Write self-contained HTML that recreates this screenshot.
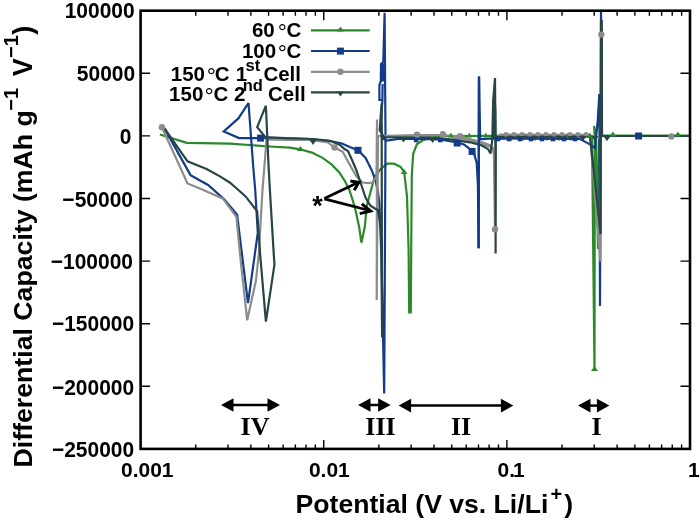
<!DOCTYPE html>
<html><head><meta charset="utf-8"><style>
html,body{margin:0;padding:0;background:#fff;}
svg{display:block;}
.t{font-family:"Liberation Sans",Arial,sans-serif;font-weight:bold;font-size:21px;fill:#000;}
.ti{font-family:"Liberation Sans",Arial,sans-serif;font-weight:bold;font-size:27px;fill:#000;}
.lg{font-family:"Liberation Sans",Arial,sans-serif;font-weight:bold;font-size:20.5px;fill:#000;}
.sup{font-size:20px;}
.sup2{font-size:16.5px;}
.deg{font-weight:normal;font-size:23px;}
.ast{font-family:"Liberation Sans",sans-serif;font-weight:bold;font-size:27px;fill:#000;}
.rn{font-family:"Liberation Serif","Times New Roman",serif;font-weight:bold;font-size:26px;fill:#000;}

</style></head><body>
<svg width="700" height="523" viewBox="0 0 700 523">
<defs><clipPath id="cp"><rect x="140.6" y="10.7" width="549.40" height="438.20"/></clipPath></defs>
<rect width="700" height="523" fill="#fff"/>
<path d="M195.73 448.90v-4.4M195.73 10.70v5M227.98 448.90v-4.4M227.98 10.70v5M250.86 448.90v-4.4M250.86 10.70v5M268.60 448.90v-4.4M268.60 10.70v5M283.11 448.90v-4.4M283.11 10.70v5M295.37 448.90v-4.4M295.37 10.70v5M305.99 448.90v-4.4M305.99 10.70v5M315.35 448.90v-4.4M315.35 10.70v5M378.86 448.90v-4.4M378.86 10.70v5M411.11 448.90v-4.4M411.11 10.70v5M433.99 448.90v-4.4M433.99 10.70v5M451.74 448.90v-4.4M451.74 10.70v5M466.24 448.90v-4.4M466.24 10.70v5M478.50 448.90v-4.4M478.50 10.70v5M489.12 448.90v-4.4M489.12 10.70v5M498.49 448.90v-4.4M498.49 10.70v5M562.00 448.90v-4.4M562.00 10.70v5M594.24 448.90v-4.4M594.24 10.70v5M617.12 448.90v-4.4M617.12 10.70v5M634.87 448.90v-4.4M634.87 10.70v5M649.37 448.90v-4.4M649.37 10.70v5M661.63 448.90v-4.4M661.63 10.70v5M672.25 448.90v-4.4M672.25 10.70v5M681.62 448.90v-4.4M681.62 10.70v5M323.73 448.90v-8.8M323.73 10.70v9.5M506.87 448.90v-8.8M506.87 10.70v9.5M140.60 73.30h9.5M690.00 73.30h-9.5M140.60 135.90h9.5M690.00 135.90h-9.5M140.60 198.50h9.5M690.00 198.50h-9.5M140.60 261.10h9.5M690.00 261.10h-9.5M140.60 323.70h9.5M690.00 323.70h-9.5M140.60 386.30h9.5M690.00 386.30h-9.5" stroke="#000" stroke-width="1.4" fill="none"/>
<text transform="translate(134.7,18.3) scale(1,1.07)" text-anchor="end" class="t">100000</text>
<text transform="translate(135.2,81.3) scale(1,1.07)" text-anchor="end" class="t">50000</text>
<text transform="translate(131.4,143.6) scale(1,1.07)" text-anchor="end" class="t">0</text>
<text transform="translate(133.0,206.7) scale(1,1.07)" text-anchor="end" class="t">−50000</text>
<text transform="translate(133.0,268.5) scale(1,1.07)" text-anchor="end" class="t">−100000</text>
<text transform="translate(134.2,331.0) scale(1,1.07)" text-anchor="end" class="t">−150000</text>
<text transform="translate(134.2,394.5) scale(1,1.07)" text-anchor="end" class="t">−200000</text>
<text transform="translate(134.2,457.2) scale(1,1.07)" text-anchor="end" class="t">−250000</text>
<text transform="translate(121.0,477.3)" class="t">0.001</text>
<text transform="translate(308.9,477.3)" class="t">0.01</text>
<text transform="translate(497.5,477.3)" class="t">0.<tspan dx="-2">1</tspan></text>
<text transform="translate(688.0,477.3)" class="t">1</text>
<g clip-path="url(#cp)"><polyline points="159.9,134.5 186.7,142.9 230,143.7 270,146.5 290,147.7 299.9,149.3 312,152.6 323,158.1 331.8,164.7 339.3,172.4 345,181.2 349.3,190 353,201 355.9,212 359.2,227.3 361.4,242.7 364.7,227.3 366.9,205.3 370.2,193.2 374.8,176.3 380.9,168.7 387.4,163.7 394.1,163.7 400.8,167 404.1,171.6 407,196.4 408.6,250 409.2,312.5 410.8,312.5 411.2,250 411.8,175 413.2,153.7 417,144.1 422.8,140.3 428.5,138.5 440,136.2 500,135.8 585,135.8 592,136 594.5,371 594.8,140 594.1,126 596,135 598,249 599,140 602,135.7 690,135.7" fill="none" stroke="#2a8a2a" stroke-width="2.2" stroke-linejoin="miter" stroke-miterlimit="3"/>
<polyline points="452,137 462,138 474,141 484,143.8 491,146.3" fill="none" stroke="#8c8c8c" stroke-width="3.4"/>
<polyline points="164.5,128.4 190.5,175.1 208.1,185 224.4,199.4 237.1,214.8 248,303.1 257.8,232.8 255.2,190 253.1,165 248.5,103 238.4,118.4 223.7,131.4 239.1,138.1 260.5,138.1 280,138 310,139 330,141 342,143.5 350.3,147.2 358,150.3 365.6,158 371.7,170.2 375.6,180.9 377.9,191.6 379.4,203.9 381.5,260 384.2,393.6 385.5,136 384.6,12.7 383.3,62 381,64 380.8,81 379.4,85 379.4,100 382.4,100 382.6,84 382.4,100 381,120 382,138 386.5,140.5 400,138.6 440,139.4 457.2,142.5 464.1,144.5 468.7,148 472.1,151.4 474.4,154.8 476.7,162.9 477.9,185 478.6,248.2 479,76.4 480.2,139.3 491.6,138.4 520,138.6 580,139 588.6,143.6 595,148 597.8,120 599.3,94 600,306 601,5 601.8,136 602,136 690,136" fill="none" stroke="#123b88" stroke-width="2.2" stroke-linejoin="miter" stroke-miterlimit="3"/>
<polyline points="161.9,127.3 187.5,183.5 200.5,188.8 223,198.7 236.4,216.8 240.1,255 247.2,320.3 255.9,280.8 258.7,255 262.5,190 264.5,165 266.5,139.5 285,139.8 310,140 328,142.5 334.5,147.5 342.7,151.8 350.3,165.6 356.4,176.3 362.6,182.5 368.7,183.2 372.5,182.5 376.5,176 377,119.6 376.7,300 378,136 417,135.2 442.9,135 460.7,136.5 474.4,140.5 483.6,143 490.5,145.5 492.8,148 493.9,154.8 495,229.3 495.3,140 500,134.6 590,134.8 600.5,262 601.3,34.6 602,136 690,136" fill="none" stroke="#8c8c8c" stroke-width="2.2" stroke-linejoin="miter" stroke-miterlimit="3"/>
<polyline points="164.5,128.4 187.5,161.3 206.6,169 220.4,176.6 230,182.7 238.4,190 245.6,196.4 255.2,208.7 257.2,211.4 260.2,255 265.9,321.7 274.5,264.3 273.8,255 269.9,190 268.5,165 265.9,105.7 257.2,127.1 265.2,137 285,138.2 313,139 330,140.8 340,145 344.2,148.8 348,151 351.8,159.5 356.4,170.2 361,184 365.6,197.8 370.2,205.4 374.8,208.5 377.9,210 381.2,230 382.1,337.5 381.6,103.6 379.7,130.3 384,137.2 430,137.4 450,139.3 470,142.3 482,145.5 488,149 490.5,153.5 492.3,140 493.2,100 495,78 495.6,150 495.6,253.6 495.8,137 590,136.5 600.6,234 601,21 601.8,21 602,136 690,136" fill="none" stroke="#284444" stroke-width="2.2" stroke-linejoin="miter" stroke-miterlimit="3"/>
<path d="M478.6 248.2L479 76.4" stroke="#123b88" stroke-width="2.4"/>
<path d="M448.3 137.4L450.9 132.4L453.5 137.4Z" fill="#2a8a2a"/>
<path d="M466.7 137.4L469.3 132.4L471.9 137.4Z" fill="#2a8a2a"/>
<path d="M483.3 137.4L485.9 132.4L488.5 137.4Z" fill="#2a8a2a"/>
<path d="M521.4 137.4L524.0 132.4L526.6 137.4Z" fill="#2a8a2a"/>
<path d="M543.4 137.4L546.0 132.4L548.6 137.4Z" fill="#2a8a2a"/>
<path d="M565.4 137.4L568.0 132.4L570.6 137.4Z" fill="#2a8a2a"/>
<path d="M587.4 137.4L590.0 132.4L592.6 137.4Z" fill="#2a8a2a"/>
<rect x="413.8" y="137.7" width="4.6" height="4.6" fill="#123b88"/>
<rect x="438.0" y="137.7" width="4.6" height="4.6" fill="#123b88"/>
<rect x="495.7" y="136.7" width="4.6" height="4.6" fill="#123b88"/>
<rect x="506.7" y="136.7" width="4.6" height="4.6" fill="#123b88"/>
<rect x="517.7" y="136.7" width="4.6" height="4.6" fill="#123b88"/>
<rect x="528.7" y="136.7" width="4.6" height="4.6" fill="#123b88"/>
<rect x="539.7" y="136.7" width="4.6" height="4.6" fill="#123b88"/>
<rect x="550.7" y="136.7" width="4.6" height="4.6" fill="#123b88"/>
<rect x="561.7" y="136.7" width="4.6" height="4.6" fill="#123b88"/>
<rect x="572.7" y="136.7" width="4.6" height="4.6" fill="#123b88"/>
<circle cx="506" cy="134.4" r="2.4" fill="#8c8c8c"/>
<circle cx="514" cy="134.4" r="2.4" fill="#8c8c8c"/>
<circle cx="522" cy="134.4" r="2.4" fill="#8c8c8c"/>
<circle cx="530" cy="134.4" r="2.4" fill="#8c8c8c"/>
<circle cx="538" cy="134.4" r="2.4" fill="#8c8c8c"/>
<circle cx="546" cy="134.4" r="2.4" fill="#8c8c8c"/>
<circle cx="554" cy="134.4" r="2.4" fill="#8c8c8c"/>
<circle cx="562" cy="134.4" r="2.4" fill="#8c8c8c"/>
<circle cx="570" cy="134.4" r="2.4" fill="#8c8c8c"/>
<circle cx="578" cy="134.4" r="2.4" fill="#8c8c8c"/>
<circle cx="586" cy="134.4" r="2.4" fill="#8c8c8c"/>
<path d="M297.0 150.9L300.5 145.9L304.0 150.9Z" fill="#2a8a2a"/>
<path d="M400.6 174.0L404.1 169.0L407.6 174.0Z" fill="#2a8a2a"/>
<path d="M591.0 371.0L594.5 366.0L598.0 371.0Z" fill="#2a8a2a"/>
<path d="M609.4 136.4L612.9 131.4L616.4 136.4Z" fill="#2a8a2a"/>
<path d="M674.4 136.4L677.9 131.4L681.4 136.4Z" fill="#2a8a2a"/>
<rect x="257.0" y="134.6" width="7.0" height="7.0" fill="#123b88"/>
<rect x="354.5" y="146.8" width="7.0" height="7.0" fill="#123b88"/>
<rect x="453.7" y="139.5" width="7.0" height="7.0" fill="#123b88"/>
<rect x="468.6" y="147.9" width="7.0" height="7.0" fill="#123b88"/>
<rect x="635.1" y="132.5" width="7.0" height="7.0" fill="#123b88"/>
<circle cx="161.9" cy="127.3" r="3.2" fill="#8c8c8c"/>
<circle cx="334.5" cy="147.5" r="3.2" fill="#8c8c8c"/>
<circle cx="495" cy="229.3" r="3.2" fill="#8c8c8c"/>
<circle cx="601.3" cy="34.6" r="3.2" fill="#8c8c8c"/>
<circle cx="671.4" cy="136.4" r="3.2" fill="#8c8c8c"/>
<circle cx="417" cy="134.6" r="3.2" fill="#8c8c8c"/>
<circle cx="442.9" cy="134.3" r="3.2" fill="#8c8c8c"/>
<circle cx="460" cy="136.3" r="3.2" fill="#8c8c8c"/>
<path d="M309.5 140.1L313.0 145.1L316.5 140.1Z" fill="#284444"/>
<path d="M399.9 137.6L403.4 142.6L406.9 137.6Z" fill="#284444"/>
<path d="M429.1 138.0L432.6 143.0L436.1 138.0Z" fill="#284444"/>
<path d="M603.5 136.2L607.0 141.2L610.5 136.2Z" fill="#284444"/>
<path d="M507.5 136.1L511.0 141.1L514.5 136.1Z" fill="#284444"/>
<path d="M519.5 136.1L523.0 141.1L526.5 136.1Z" fill="#284444"/>
<path d="M531.5 136.1L535.0 141.1L538.5 136.1Z" fill="#284444"/>
<path d="M543.5 136.1L547.0 141.1L550.5 136.1Z" fill="#284444"/>
<path d="M555.5 136.1L559.0 141.1L562.5 136.1Z" fill="#284444"/>
<path d="M567.5 136.1L571.0 141.1L574.5 136.1Z" fill="#284444"/>
<path d="M579.5 136.1L583.0 141.1L586.5 136.1Z" fill="#284444"/>
<path d="M591.5 136.1L595.0 141.1L598.5 136.1Z" fill="#284444"/>
<rect x="380" y="63.5" width="4" height="18" fill="#123b88"/>
<path d="M492.3 138L492.6 112L494.6 80L496.4 110L496.6 138Z" fill="#284444"/></g>
<text class="ti" transform="translate(32.3,467.5) rotate(-90)"><tspan style="font-size:26.7px">Differential Capacity (mAh g</tspan><tspan class="sup" x="356.8" y="-14.6">−1</tspan><tspan x="391.2" y="0">V</tspan><tspan class="sup" x="409.5" y="-14.6">−1</tspan><tspan x="432.7" y="0">)</tspan></text>
<text class="ti" x="295.6" y="513" style="font-size:26.6px">Potential (V vs. Li/Li<tspan class="sup" dx="2.2" dy="-12.5">+</tspan><tspan dx="2" dy="12.5">)</tspan></text>
<text class="lg"><tspan x="251.9" y="37">60</tspan><tspan x="277.7" y="40" class="deg">°</tspan><tspan x="286.5" y="37">C</tspan></text>
<text class="lg"><tspan x="241.9" y="57.5">100</tspan><tspan x="277.7" y="60.5" class="deg">°</tspan><tspan x="286.5" y="57.5">C</tspan></text>
<text class="lg"><tspan x="170.8" y="80.8">150</tspan><tspan x="206.7" y="83.8" class="deg">°</tspan><tspan x="214.7" y="80.8">C</tspan><tspan x="235.7" y="80.8">1</tspan><tspan x="245.6" y="70.6" class="sup2">st</tspan><tspan x="263.4" y="80.8">Cell</tspan></text>
<text class="lg"><tspan x="169.1" y="100.9">150</tspan><tspan x="204.6" y="103.9" class="deg">°</tspan><tspan x="213.4" y="100.9">C</tspan><tspan x="233.9" y="100.9">2</tspan><tspan x="242.7" y="90.7" class="sup2">nd</tspan><tspan x="268.0" y="100.9">Cell</tspan></text>
<path d="M311 30.4H369.7" stroke="#2a8a2a" stroke-width="2.2"/>
<path d="M311 51H369.7" stroke="#123b88" stroke-width="2.2"/>
<path d="M311 71.8H369.7" stroke="#8c8c8c" stroke-width="2.2"/>
<path d="M311 92.3H369.7" stroke="#284444" stroke-width="2.2"/>
<path d="M336.9 31.5L340.4 26.5L343.9 31.5Z" fill="#2a8a2a"/>
<rect x="336.9" y="47.6" width="7" height="7" fill="#123b88"/>
<circle cx="340.4" cy="71.7" r="3.2" fill="#8c8c8c"/>
<path d="M336.9 91.5L340.4 96.5L343.9 91.5Z" fill="#284444"/>
<path d="M324.3 198.4L357.5 182.8M324.3 198.9L369.5 210.5" stroke="#000" stroke-width="2.8" fill="none"/>
<path d="M350.4 180.9L358.8 182.4L354.2 190.2" stroke="#000" stroke-width="3" fill="none" stroke-linejoin="miter"/>
<path d="M361.8 203.8L370.7 210.9L359.7 213.6" stroke="#000" stroke-width="3" fill="none" stroke-linejoin="miter"/>
<text class="ast" x="317.6" y="215.3" text-anchor="middle">*</text>
<path d="M231 405H270" stroke="#000" stroke-width="2.5"/><path d="M221 405L233.5 398.2L233.5 411.8Z" fill="#000"/><path d="M280 405L267.5 398.2L267.5 411.8Z" fill="#000"/>
<path d="M368 405H380.6" stroke="#000" stroke-width="2.5"/><path d="M358 405L370.5 398.2L370.5 411.8Z" fill="#000"/><path d="M390.6 405L378.1 398.2L378.1 411.8Z" fill="#000"/>
<path d="M408.6 405.6H503.4" stroke="#000" stroke-width="2.5"/><path d="M398.6 405.6L411.1 398.8L411.1 412.40000000000003Z" fill="#000"/><path d="M513.4 405.6L500.9 398.8L500.9 412.40000000000003Z" fill="#000"/>
<path d="M588 405.6H599.4" stroke="#000" stroke-width="2.5"/><path d="M578 405.6L590.5 398.8L590.5 412.40000000000003Z" fill="#000"/><path d="M609.4 405.6L596.9 398.8L596.9 412.40000000000003Z" fill="#000"/>
<text class="rn" x="255" y="435.3" text-anchor="middle">IV</text>
<text class="rn" x="380.5" y="435.3" text-anchor="middle">III</text>
<text class="rn" x="461" y="435.3" text-anchor="middle">II</text>
<text class="rn" x="596.5" y="435.3" text-anchor="middle">I</text>
<rect x="140.6" y="10.7" width="549.40" height="438.20" fill="none" stroke="#000" stroke-width="2.6"/>
</svg>
</body></html>
